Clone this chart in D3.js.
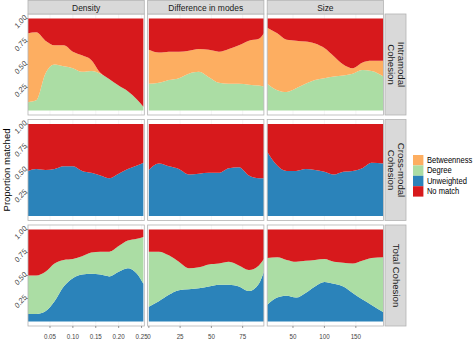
<!DOCTYPE html>
<html>
<head>
<meta charset="utf-8">
<script src="https://cdn.jsdelivr.net/npm/d3@7"></script>
<style>
  body { margin: 0; background: #fff; }
  svg { display: block; font-family: "Liberation Sans", Arial, sans-serif; }
</style>
</head>
<body>
<script>
// x grids for each facet column
const densityX = [0.002, 0.02, 0.04, 0.06, 0.08, 0.10, 0.12, 0.14, 0.16, 0.18, 0.20, 0.22, 0.24, 0.254];
const modesX = [0, 8, 16, 24, 32, 40, 48, 56, 64, 72, 80, 88, 92];
const sizeX = [9, 25, 40, 55, 70, 85, 100, 115, 130, 145, 160, 175, 194];

const columns = ["Density", "Difference in modes", "Size"];
const rowLabels = [["Intramodal", "Cohesion"], ["Cross-modal", "Cohesion"], ["Total Cohesion"]];
const seriesKeys = ["Unweighted", "Degree", "Betweenness", "No match"];
const legendKeys = ["Betweenness", "Degree", "Unweighted", "No match"];
const colors = { "Betweenness": "#fdae61", "Degree": "#abdda4", "Unweighted": "#2b83ba", "No match": "#d7191c" };

const xDomains = [[0.002, 0.256], [-1, 92], [9, 194]];
const xTicks = [[0.05, 0.10, 0.15, 0.20, 0.25], [0, 25, 50, 75], [50, 100, 150]];
const xTickFmt = [d3.format(".2f"), d3.format("d"), d3.format("d")];
const yTicks = [0.25, 0.50, 0.75, 1.00];

// Intramodal cohesion
const intraDensity = {
  "Degree":      [0.09, 0.11, 0.40, 0.50, 0.48, 0.46, 0.42, 0.43, 0.40, 0.34, 0.27, 0.21, 0.12, 0.04],
  "Betweenness": [0.75, 0.74, 0.36, 0.21, 0.23, 0.18, 0.18, 0.12, 0.01, 0, 0, 0, 0, 0],
  "No match":    [0.16, 0.15, 0.24, 0.29, 0.29, 0.36, 0.40, 0.45, 0.59, 0.66, 0.73, 0.79, 0.88, 0.96]
};
const intraModes = {
  "Degree":      [0.29, 0.30, 0.33, 0.35, 0.40, 0.42, 0.36, 0.30, 0.29, 0.29, 0.28, 0.27, 0.26],
  "Betweenness": [0.37, 0.33, 0.31, 0.29, 0.25, 0.25, 0.30, 0.34, 0.38, 0.42, 0.48, 0.51, 0.58],
  "No match":    [0.34, 0.37, 0.36, 0.36, 0.35, 0.33, 0.34, 0.36, 0.33, 0.29, 0.24, 0.22, 0.16]
};
const intraSize = {
  "Degree":      [0.29, 0.22, 0.20, 0.24, 0.29, 0.33, 0.35, 0.37, 0.38, 0.40, 0.44, 0.43, 0.37],
  "Betweenness": [0.61, 0.62, 0.57, 0.52, 0.46, 0.40, 0.33, 0.22, 0.12, 0.06, 0.08, 0.11, 0.17],
  "No match":    [0.10, 0.16, 0.23, 0.24, 0.25, 0.27, 0.32, 0.41, 0.50, 0.54, 0.48, 0.46, 0.46]
};

// Cross-modal cohesion
const crossDensity = {
  "Unweighted": [0.49, 0.51, 0.50, 0.51, 0.54, 0.54, 0.49, 0.47, 0.44, 0.41, 0.46, 0.51, 0.55, 0.58],
  "No match":   [0.51, 0.49, 0.50, 0.49, 0.46, 0.46, 0.51, 0.53, 0.56, 0.59, 0.54, 0.49, 0.45, 0.42]
};
const crossModes = {
  "Unweighted": [0.50, 0.57, 0.54, 0.51, 0.45, 0.46, 0.47, 0.47, 0.52, 0.53, 0.44, 0.41, 0.41],
  "No match":   [0.50, 0.43, 0.46, 0.49, 0.55, 0.54, 0.53, 0.53, 0.48, 0.47, 0.56, 0.59, 0.59]
};
const crossSize = {
  "Unweighted": [0.70, 0.55, 0.49, 0.49, 0.51, 0.50, 0.48, 0.45, 0.48, 0.49, 0.52, 0.58, 0.57],
  "No match":   [0.30, 0.45, 0.51, 0.51, 0.49, 0.50, 0.52, 0.55, 0.52, 0.51, 0.48, 0.42, 0.43]
};

// Total cohesion
const totalDensity = {
  "Unweighted": [0.08, 0.08, 0.11, 0.22, 0.38, 0.47, 0.51, 0.52, 0.51, 0.49, 0.54, 0.58, 0.52, 0.41],
  "Degree":     [0.42, 0.42, 0.43, 0.41, 0.29, 0.21, 0.20, 0.23, 0.25, 0.27, 0.28, 0.30, 0.38, 0.51],
  "No match":   [0.50, 0.50, 0.46, 0.37, 0.33, 0.32, 0.29, 0.25, 0.24, 0.24, 0.18, 0.12, 0.10, 0.08]
};
const totalModes = {
  "Unweighted": [0.16, 0.22, 0.29, 0.34, 0.35, 0.36, 0.38, 0.40, 0.40, 0.38, 0.33, 0.41, 0.54],
  "Degree":     [0.60, 0.54, 0.43, 0.31, 0.23, 0.23, 0.24, 0.23, 0.25, 0.23, 0.23, 0.20, 0.14],
  "No match":   [0.24, 0.24, 0.28, 0.35, 0.42, 0.41, 0.38, 0.37, 0.35, 0.39, 0.44, 0.39, 0.32]
};
const totalSize = {
  "Unweighted": [0.18, 0.26, 0.28, 0.26, 0.31, 0.38, 0.43, 0.41, 0.38, 0.31, 0.24, 0.18, 0.10],
  "Degree":     [0.51, 0.44, 0.39, 0.39, 0.35, 0.29, 0.25, 0.24, 0.26, 0.32, 0.42, 0.51, 0.60],
  "No match":   [0.31, 0.30, 0.33, 0.35, 0.34, 0.33, 0.32, 0.35, 0.36, 0.37, 0.34, 0.31, 0.30]
};

const grid = [
  [intraDensity, intraModes, intraSize],
  [crossDensity, crossModes, crossSize],
  [totalDensity, totalModes, totalSize]
];
const xGrids = [densityX, modesX, sizeX];

const width = 474, height = 339;
const panelLeft = 28, panelW = 116.3, colGap = 3.3;
const panelTop = 14, panelH = 101, rowGap = 4.5;
const stripW = 21;
const squeeze = 0.88;   // text is drawn slightly condensed

const svg = d3.select("body").append("svg")
  .attr("width", width).attr("height", height);

svg.append("rect").attr("width", width).attr("height", height).attr("fill", "#fff");

const defs = svg.append("defs");

grid.forEach((row, r) => {
  const top = panelTop + r * (panelH + rowGap);
  const y = d3.scaleLinear().domain([-0.05, 1.05]).range([top + panelH, top]);

  row.forEach((panel, c) => {
    const left = panelLeft + c * (panelW + colGap);
    const x = d3.scaleLinear().domain(xDomains[c]).range([left, left + panelW]);
    const keys = seriesKeys.filter(k => panel[k]);

    const table = xGrids[c].map((xv, i) => {
      const o = { x: xv };
      keys.forEach(k => { o[k] = panel[k][i]; });
      return o;
    });
    const stacked = d3.stack().keys(keys)(table);

    const clipId = `clip-${r}-${c}`;
    defs.append("clipPath").attr("id", clipId)
      .append("rect").attr("x", left).attr("y", top).attr("width", panelW).attr("height", panelH);

    const g = svg.append("g");
    g.append("rect")
      .attr("x", left).attr("y", top).attr("width", panelW).attr("height", panelH)
      .attr("fill", "#fff");

    // faint grid, only visible in the expanded margins
    g.append("g").selectAll("line").data(xTicks[c]).join("line")
      .attr("x1", d => x(d)).attr("x2", d => x(d))
      .attr("y1", top).attr("y2", top + panelH)
      .attr("stroke", "#ebebeb").attr("stroke-width", 0.5);

    const area = d3.area()
      .x(d => x(d.data.x))
      .y0(d => y(d[0]))
      .y1(d => y(d[1]))
      .curve(d3.curveMonotoneX);

    g.append("g").attr("clip-path", `url(#${clipId})`)
      .selectAll("path").data(stacked).join("path")
      .attr("fill", d => colors[d.key])
      .attr("d", area);

    g.append("rect")
      .attr("x", left).attr("y", top).attr("width", panelW).attr("height", panelH)
      .attr("fill", "none").attr("stroke", "#b3b3b3").attr("stroke-width", 0.8);

    // y axis on first column
    if (c === 0) {
      const ya = svg.append("g");
      yTicks.forEach(t => {
        ya.append("line")
          .attr("x1", left - 2).attr("x2", left).attr("y1", y(t)).attr("y2", y(t))
          .attr("stroke", "#555").attr("stroke-width", 0.6);
        ya.append("text")
          .attr("transform", `translate(${left - 2.5},${y(t) - 2.5}) scale(${squeeze},1) rotate(-45)`)
          .attr("text-anchor", "end")
          .attr("dominant-baseline", "central")
          .attr("font-size", 8)
          .attr("fill", "#444")
          .text(d3.format(".2f")(t));
      });
    }

    // x axis on bottom row
    if (r === grid.length - 1) {
      const xa = svg.append("g");
      xTicks[c].forEach(t => {
        xa.append("line")
          .attr("x1", x(t)).attr("x2", x(t)).attr("y1", top + panelH).attr("y2", top + panelH + 2)
          .attr("stroke", "#555").attr("stroke-width", 0.6);
        xa.append("text")
          .attr("transform", `translate(${x(t)},${top + panelH + 12.5}) scale(0.82,1)`)
          .attr("text-anchor", "middle")
          .attr("font-size", 7.6)
          .attr("fill", "#444")
          .text(xTickFmt[c](t));
      });
    }

    // column strips
    if (r === 0) {
      svg.append("rect")
        .attr("x", left).attr("y", 0.5).attr("width", panelW).attr("height", panelTop - 0.5)
        .attr("fill", "#d9d9d9").attr("stroke", "#b3b3b3").attr("stroke-width", 0.8);
      svg.append("text")
        .attr("transform", `translate(${left + panelW / 2},7.5) scale(${squeeze},1)`)
        .attr("text-anchor", "middle").attr("dominant-baseline", "central")
        .attr("font-size", 9.6).attr("fill", "#1a1a1a")
        .text(columns[c]);
    }

    // row strips
    if (c === row.length - 1) {
      const sx = left + panelW + 1.5;
      svg.append("rect")
        .attr("x", sx).attr("y", top).attr("width", stripW).attr("height", panelH)
        .attr("fill", "#d9d9d9").attr("stroke", "#b3b3b3").attr("stroke-width", 0.8);
      const lines = rowLabels[r];
      const t = svg.append("text")
        .attr("transform", `translate(${sx + stripW / 2},${top + panelH / 2}) rotate(90) scale(1,${squeeze})`)
        .attr("text-anchor", "middle")
        .attr("font-size", 9.6).attr("fill", "#1a1a1a");
      lines.forEach((ln, i) => {
        t.append("tspan")
          .attr("x", 0)
          .attr("y", (i - (lines.length - 1) / 2) * 11)
          .attr("dominant-baseline", "central")
          .text(ln);
      });
    }
  });
});

// y axis title
const plotMid = panelTop + (3 * panelH + 2 * rowGap) / 2;
svg.append("text")
  .attr("transform", `translate(6,${plotMid}) rotate(-90)`)
  .attr("text-anchor", "middle").attr("dominant-baseline", "central")
  .attr("font-size", 9.5).attr("fill", "#000")
  .text("Proportion matched");

// legend
const legend = svg.append("g").attr("transform", "translate(413,155)");
const keySize = 10.4;
legendKeys.forEach((k, i) => {
  legend.append("rect")
    .attr("x", 0).attr("y", i * keySize)
    .attr("width", keySize).attr("height", keySize)
    .attr("fill", colors[k]);
  legend.append("text")
    .attr("transform", `translate(${keySize + 3.5},${i * keySize + keySize / 2}) scale(0.88,1)`)
    .attr("dominant-baseline", "central")
    .attr("font-size", 8.6).attr("fill", "#000")
    .text(k);
});
</script>
</body>
</html>
